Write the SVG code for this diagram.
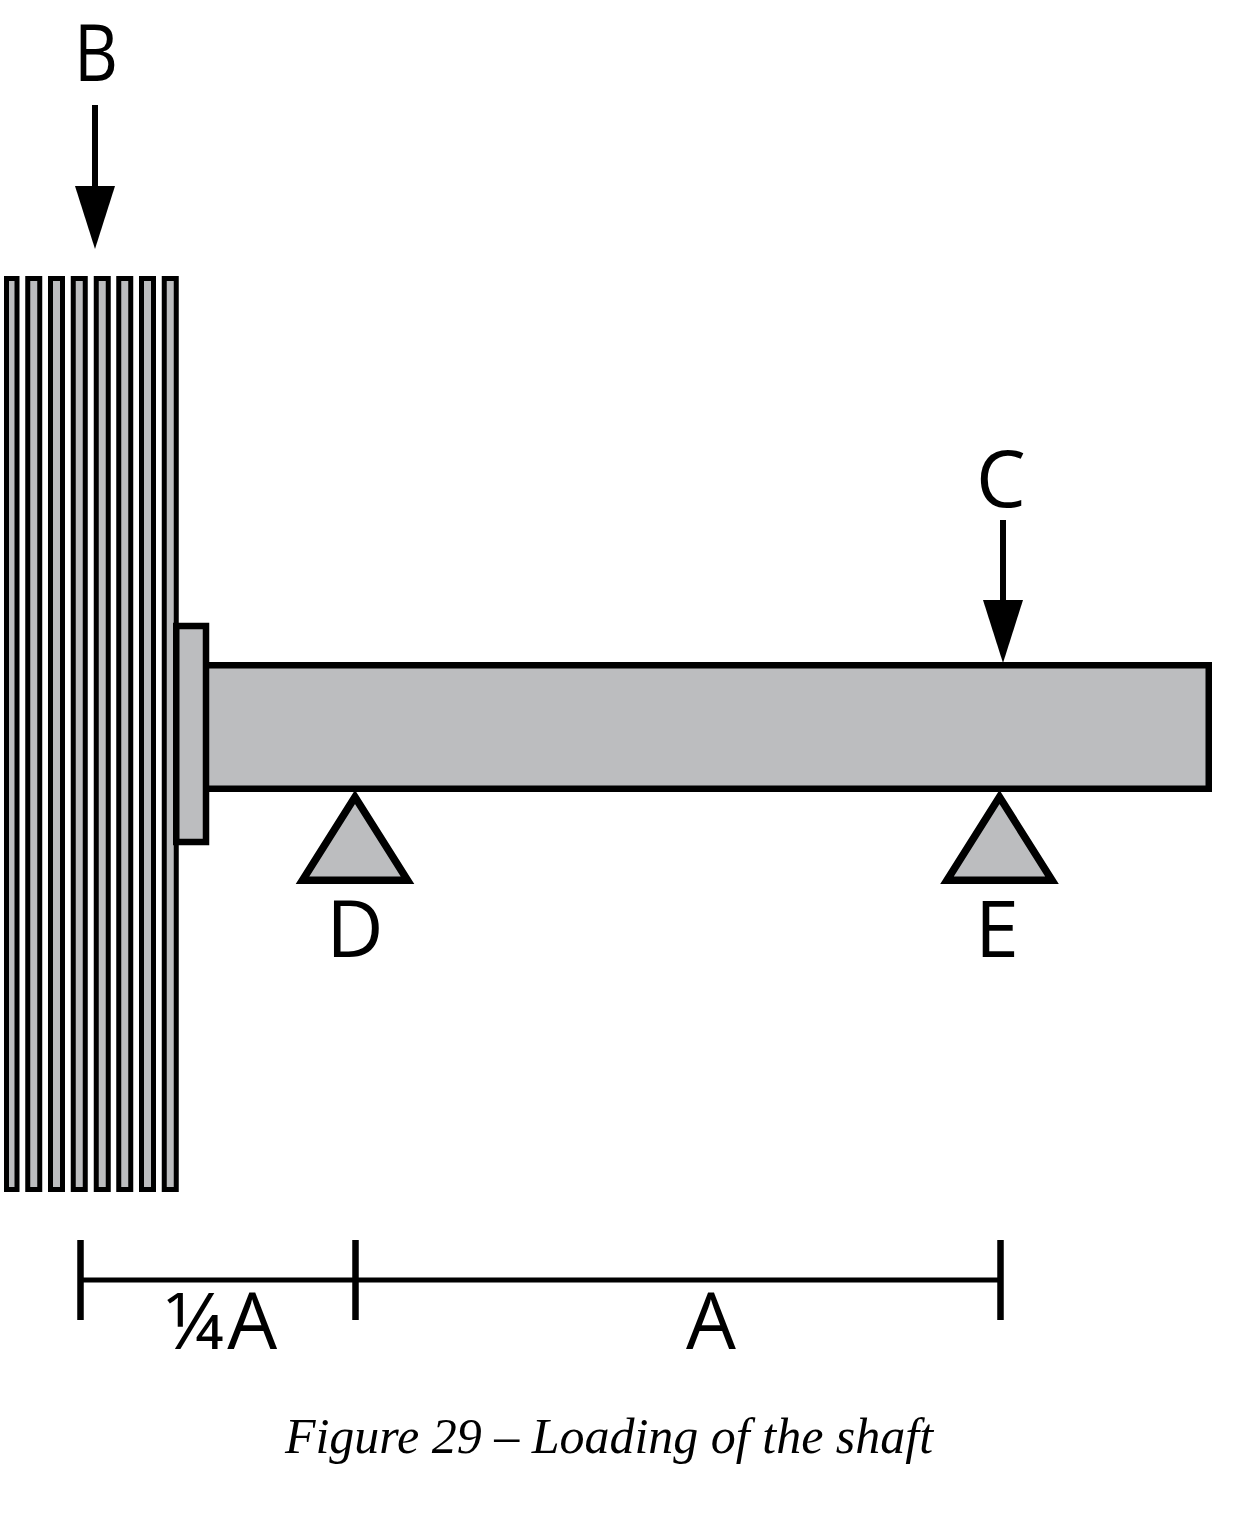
<svg xmlns="http://www.w3.org/2000/svg" width="1238" height="1520" viewBox="0 0 1238 1520">
<style>
.part{fill:#bcbdbf;stroke:#000;stroke-width:6.5;stroke-linejoin:miter}
.support{fill:#bcbdbf;stroke:#000;stroke-width:7.5;stroke-linejoin:miter}
.plate{fill:#bcbdbf;stroke:#000;stroke-width:5}
.line{stroke:#000;fill:none}
.head{fill:#000}
.label{font-family:"Open Sans","Noto Sans",sans-serif;font-size:79px;fill:#000}
.caption{font-family:"Liberation Serif",serif;font-style:italic;font-size:50px;fill:#000}
</style>
<rect width="1238" height="1520" fill="#fff"/>
<g id="wall">
<rect class="plate" x="6.5" y="278.5" width="10.5" height="911"/>
<rect class="plate" x="27.75" y="278.5" width="12" height="911"/>
<rect class="plate" x="50.5" y="278.5" width="12" height="911"/>
<rect class="plate" x="73.25" y="278.5" width="12" height="911"/>
<rect class="plate" x="96.25" y="278.5" width="12" height="911"/>
<rect class="plate" x="118.75" y="278.5" width="12" height="911"/>
<rect class="plate" x="141.5" y="278.5" width="12" height="911"/>
<rect class="plate" x="164.25" y="278.5" width="12" height="911"/>
</g>
<g id="beam"><rect class="part" x="205" y="665.25" width="1003.75" height="123.5"/></g>
<g id="flange"><rect class="part" x="176.25" y="626" width="29.75" height="216"/></g>
<g id="support-d"><path class="support" d="M355 797L302.5 880.25H407.5Z"/></g>
<g id="support-e"><path class="support" d="M999.5 797L947 880.25H1052Z"/></g>
<g id="connectors">
<path class="line" stroke-width="6" d="M95 105V190"/>
<path class="head" d="M75 186H115L95 249Z"/>
<path class="line" stroke-width="6" d="M1003 520V604"/>
<path class="head" d="M983 600H1023L1003 663Z"/>
<path class="line" stroke-width="6.5" d="M80.5 1240V1320M355.5 1240V1320M1000.5 1240V1320"/>
<path class="line" stroke-width="5" d="M80.5 1280H1000.5"/>
</g>
<g id="label-b"><text class="label" x="96" y="81" text-anchor="middle" textLength="44" lengthAdjust="spacingAndGlyphs">B</text></g>
<g id="label-c"><text class="label" x="1001" y="507" text-anchor="middle">C</text></g>
<g id="label-d"><text class="label" x="355" y="957" text-anchor="middle">D</text></g>
<g id="label-e"><text class="label" x="997" y="957" text-anchor="middle">E</text></g>
<g id="label-quarter"><text class="label" x="221" y="1349" text-anchor="middle">¼<tspan dx="4">A</tspan></text></g>
<g id="label-a"><text class="label" x="711" y="1349" text-anchor="middle">A</text></g>
<text class="caption" x="609" y="1453" text-anchor="middle">Figure 29 – Loading of the shaft</text>
</svg>
